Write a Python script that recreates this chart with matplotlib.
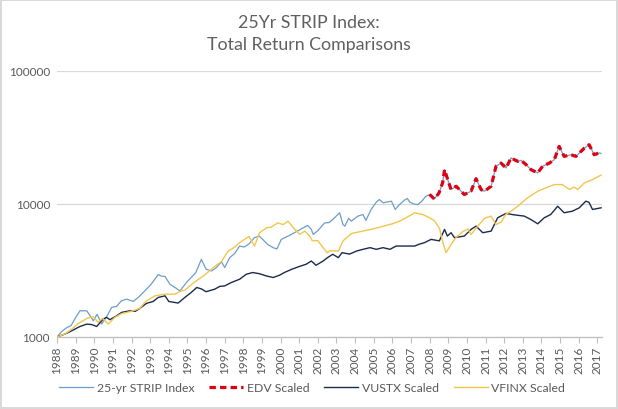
import numpy as np
import matplotlib
matplotlib.use("Agg")
import matplotlib.pyplot as plt
from matplotlib.lines import Line2D

# ---------------- data ----------------
strip_years = [1988.0, 1988.25, 1988.5, 1988.75, 1989.0, 1989.23, 1989.6, 1989.95, 1990.15, 1990.4,
               1990.7, 1990.93, 1991.2, 1991.45, 1991.74, 1992.1, 1992.45, 1992.75, 1993.05, 1993.43,
               1993.6, 1993.8, 1994.06, 1994.33, 1994.6, 1994.95, 1995.2, 1995.45, 1995.75, 1996.0,
               1996.3, 1996.55, 1996.83, 1997.0, 1997.27, 1997.54, 1997.8, 1998.05, 1998.3, 1998.6,
               1998.85, 1999.05, 1999.3, 1999.6, 1999.8, 2000.04, 2000.5, 2000.85, 2001.2, 2001.45,
               2001.65, 2001.75, 2002.0, 2002.36, 2002.6, 2002.8, 2003.17, 2003.35, 2003.45, 2003.65,
               2003.8, 2004.15, 2004.42, 2004.58, 2004.86, 2005.13, 2005.3, 2005.5, 2005.7, 2005.95,
               2006.15, 2006.38, 2006.65, 2006.8, 2006.95, 2007.15, 2007.36, 2007.55, 2007.8, 2008.0]
strip_values = [1000, 1100, 1170, 1216, 1400, 1574, 1574, 1325, 1480, 1251,
                1450, 1669, 1700, 1870, 1926, 1850, 2039, 2250, 2490, 2950,
                2870, 2850, 2493, 2357, 2222, 2570, 2800, 3053, 3839, 3230,
                3137, 3326, 3676, 3326, 3950, 4250, 4829, 4750, 5000, 5583,
                5742, 5400, 4974, 4697, 4590, 5420, 5830, 6200, 6600, 6900,
                6440, 5910, 6300, 7200, 7250, 7650, 8590, 7000, 6818, 7800,
                7430, 8110, 8340, 7530, 9100, 10300, 10810, 10210, 10350, 10500,
                9100, 9900, 10700, 11000, 10300, 10000, 9900, 10400, 11440, 11800]

edv_years = [2008.0, 2008.25, 2008.5, 2008.7, 2008.8, 2008.97, 2009.15, 2009.42, 2009.6, 2009.86,
             2010.22, 2010.49, 2010.76, 2010.94, 2011.3, 2011.56, 2011.83, 2012.1, 2012.37, 2012.72,
             2012.9, 2013.17, 2013.44, 2013.8, 2014.06, 2014.42, 2014.69, 2014.95, 2015.22, 2015.58,
             2015.85, 2016.3, 2016.56, 2016.83, 2017.1, 2017.2]
edv_values = [11800, 10900, 12100, 14500, 18130, 15250, 12840, 13600, 12840, 11780,
              12470, 15500, 12840, 12470, 13600, 19200, 20300, 18680, 22180, 20930,
              21300, 19800, 18130, 17130, 19200, 20290, 21540, 27100, 22800, 23480,
              22800, 26300, 27920, 23480, 24200, 24000]

vustx_years = [1988.0, 1988.43, 1988.8, 1989.23, 1989.6, 1989.86, 1990.13, 1990.48, 1990.66, 1990.84,
               1991.2, 1991.47, 1991.9, 1992.2, 1992.45, 1992.8, 1993.16, 1993.43, 1993.8, 1994.0,
               1994.5, 1994.86, 1995.2, 1995.5, 1995.75, 1996.0, 1996.47, 1996.73, 1997.0, 1997.36,
               1997.8, 1998.16, 1998.5, 1998.87, 1999.24, 1999.6, 1999.95, 2000.2, 2000.6, 2000.95,
               2001.37, 2001.65, 2001.9, 2002.28, 2002.55, 2002.8, 2003.1, 2003.3, 2003.7, 2004.08,
               2004.42, 2004.8, 2005.13, 2005.5, 2005.87, 2006.2, 2006.75, 2007.2, 2007.42, 2007.72,
               2008.08, 2008.52, 2008.8, 2008.95, 2009.15, 2009.33, 2009.86, 2010.22, 2010.49, 2010.85,
               2011.3, 2011.65, 2012.1, 2012.5, 2013.08, 2013.44, 2013.8, 2014.15, 2014.5, 2014.87,
               2015.22, 2015.66, 2016.03, 2016.38, 2016.55, 2016.74, 2017.2]
vustx_values = [1000, 1053, 1115, 1200, 1250, 1240, 1200, 1364, 1404, 1350,
                1444, 1531, 1574, 1560, 1640, 1790, 1850, 1983, 2039, 1850,
                1800, 1983, 2160, 2357, 2300, 2190, 2290, 2400, 2422, 2570,
                2718, 2964, 3053, 2990, 2878, 2800, 2918, 3053, 3230, 3370,
                3524, 3726, 3462, 3726, 3980, 4187, 3950, 4307, 4200, 4430,
                4562, 4697, 4562, 4697, 4562, 4829, 4829, 4830, 4974, 5120,
                5420, 5280, 6440, 5742, 6083, 5583, 5742, 6440, 6818, 6083,
                6256, 7880, 8500, 8300, 8110, 7630, 7100, 7880, 8340, 9620,
                8590, 8830, 9360, 10500, 10300, 9100, 9360]

vfinx_years = [1988.0, 1988.43, 1988.8, 1989.14, 1989.6, 1989.95, 1990.2, 1990.45, 1990.75, 1991.1,
               1991.47, 1992.0, 1992.45, 1992.75, 1993.25, 1993.8, 1994.33, 1994.6, 1994.86, 1995.4,
               1995.93, 1996.47, 1996.83, 1997.17, 1997.54, 1997.8, 1998.07, 1998.3, 1998.6, 1998.87,
               1999.24, 1999.5, 1999.86, 2000.13, 2000.4, 2000.76, 2001.03, 2001.3, 2001.56, 2001.7,
               2002.0, 2002.28, 2002.5, 2002.63, 2003.1, 2003.35, 2003.8, 2004.5, 2005.0, 2005.5,
               2006.0, 2006.4, 2006.75, 2007.2, 2007.63, 2007.99, 2008.25, 2008.52, 2008.7, 2008.88,
               2009.15, 2009.42, 2009.78, 2010.05, 2010.22, 2010.58, 2010.94, 2011.3, 2011.56, 2011.83,
               2012.1, 2012.37, 2012.8, 2013.25, 2013.8, 2014.24, 2014.69, 2015.13, 2015.5, 2015.75,
               2015.95, 2016.3, 2016.74, 2017.2]
vfinx_values = [1000, 1053, 1148, 1260, 1380, 1420, 1288, 1380, 1251, 1404,
                1500, 1560, 1640, 1850, 2039, 2100, 2100, 2200, 2250, 2600,
                2930, 3400, 3700, 4400, 4750, 5120, 5420, 5700, 4830, 6083,
                6630, 6700, 7220, 7000, 7430, 6440, 5910, 6256, 5742, 5300,
                5300, 4697, 4300, 4450, 4430, 5280, 6000, 6300, 6500, 6800,
                7100, 7430, 7900, 8590, 8340, 7880, 7500, 6600, 5200, 4300,
                4974, 5600, 6200, 6500, 5900, 6800, 7800, 8100, 7000, 7300,
                8400, 8830, 9800, 11130, 12470, 13220, 14000, 14000, 12840, 13400,
                12840, 14400, 15250, 16500]

year_ticks = list(range(1988, 2018))
y_ticks = [1000, 10000, 100000]
y_tick_labels = ["1000", "10000", "100000"]
series_labels = ["25-yr STRIP Index", "EDV Scaled", "VUSTX Scaled", "VFINX Scaled"]
title_text = "25Yr STRIP Index:\nTotal Return Comparisons"

# ---------------- styling ----------------
plt.rcParams['font.family'] = ['Lato', 'DejaVu Sans']
GREY = '#595959'
C_STRIP = '#6E9DCC'
C_EDV = '#E00012'
C_VUSTX = '#1C2A4C'
C_VFINX = '#F2C64C'

fig = plt.figure(figsize=(6.18, 4.10), dpi=100)
fig.patch.set_facecolor('white')
fig.patch.set_edgecolor('#D9D9D9')
fig.patch.set_linewidth(1.5)
ax = fig.add_axes([57/618, 1-338/410, (602-57)/618, (338-72)/410])

# STRIP index continues underneath the EDV series (same values after 2008)
strip_x = np.concatenate([strip_years, edv_years[1:]])
strip_y = np.concatenate([strip_values, edv_values[1:]])

ax.plot(strip_x, strip_y, color=C_STRIP, lw=0.9, zorder=3)
ax.plot(edv_years, edv_values, color=C_EDV, lw=2.3, linestyle=(0, (2.0, 1.3)), zorder=4)
ax.plot(vustx_years, vustx_values, color=C_VUSTX, lw=1.0, zorder=5)
ax.plot(vfinx_years, vfinx_values, color=C_VFINX, lw=1.0, zorder=6)

ax.set_yscale('log')
ax.set_ylim(1000, 100000)
ax.set_yticks(y_ticks)
ax.set_yticklabels(y_tick_labels)
ax.yaxis.set_minor_locator(matplotlib.ticker.NullLocator())
ax.set_xlim(1988, 2017.25)
ax.set_xticks(year_ticks)
ax.set_xticklabels([str(y) for y in year_ticks], rotation=90)

for s in ['top', 'right', 'left']:
    ax.spines[s].set_visible(False)
ax.spines['bottom'].set_color('#BFBFBF')
ax.spines['bottom'].set_linewidth(0.9)
ax.grid(axis='y', color='#D9D9D9', lw=0.9)
ax.set_axisbelow(True)
ax.tick_params(axis='y', length=0, pad=5, labelsize=8.5, labelcolor=GREY)
ax.tick_params(axis='x', length=4, width=0.8, color='#BFBFBF', pad=2,
               labelsize=8.5, labelcolor=GREY)

fig.text(0.5, 1-34/410, title_text, ha='center', va='center', fontsize=12.8,
         color='#606060', linespacing=1.45)

handles = [Line2D([], [], color=C_STRIP, lw=0.9),
           Line2D([], [], color=C_EDV, lw=2.3, linestyle=(0, (2.0, 1.3))),
           Line2D([], [], color=C_VUSTX, lw=1.0),
           Line2D([], [], color=C_VFINX, lw=1.0)]
fig.legend(handles, series_labels, loc='center', bbox_to_anchor=(312/618, 1-389/410),
           ncol=4, frameon=False, handlelength=2.8, columnspacing=1.2,
           handletextpad=0.3, fontsize=8.8, labelcolor=GREY)

fig.savefig('out.png', dpi=100, facecolor='white', edgecolor='#D9D9D9')
